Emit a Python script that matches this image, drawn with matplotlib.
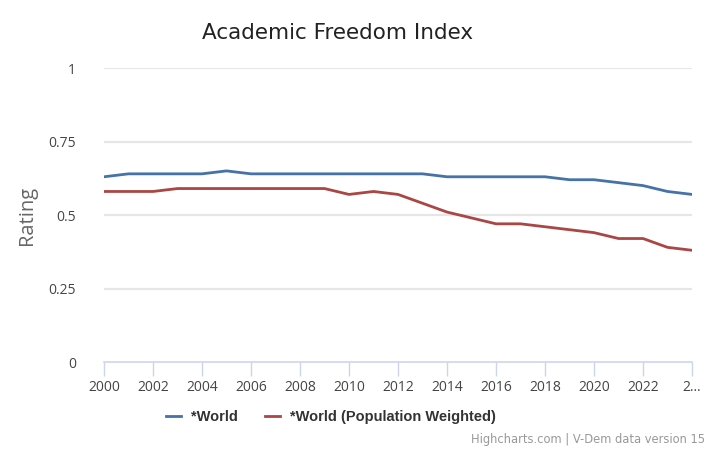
import numpy as np
import matplotlib.pyplot as plt

years = list(range(2000, 2025))
world = [0.63, 0.64, 0.64, 0.64, 0.64, 0.65, 0.64, 0.64, 0.64, 0.64,
         0.64, 0.64, 0.64, 0.64, 0.63, 0.63, 0.63, 0.63, 0.63, 0.62,
         0.62, 0.61, 0.60, 0.58, 0.57]
world_pop = [0.58, 0.58, 0.58, 0.59, 0.59, 0.59, 0.59, 0.59, 0.59, 0.59,
             0.57, 0.58, 0.57, 0.54, 0.51, 0.49, 0.47, 0.47, 0.46, 0.45,
             0.44, 0.42, 0.42, 0.39, 0.38]
xticks = list(range(2000, 2025, 2))
xtick_labels = [str(y) for y in xticks[:-1]] + ["2\u2026"]
yticks = [0, 0.25, 0.5, 0.75, 1]
ytick_labels = ["0", "0.25", "0.5", "0.75", "1"]

W, H = 710, 463
fig = plt.figure(figsize=(W / 100, H / 100), dpi=100)
ax = fig.add_axes([104 / W, 1 - 362 / H, 588 / W, 294 / H])

for y in yticks[1:]:
    ax.axhline(y, color="#e6e6e6", lw=1.6, zorder=0)

ax.plot(years, world, color="#4572A7", lw=2, label="*World", zorder=3)
ax.plot(years, world_pop, color="#AA4643", lw=2, label="*World (Population Weighted)", zorder=3)

ax.set_xlim(2000, 2024)
ax.set_ylim(0, 1)
for s in ["top", "right", "left"]:
    ax.spines[s].set_visible(False)
ax.spines["bottom"].set_color("#ccd6eb")
ax.spines["bottom"].set_linewidth(1.2)
ax.set_xticks(xticks)
ax.set_xticklabels(xtick_labels)
ax.set_yticks(yticks)
ax.set_yticklabels(ytick_labels)
ax.tick_params(axis="x", length=10, width=1, color="#ccd6eb", labelsize=10,
               labelcolor="#444444", pad=3)
ax.tick_params(axis="y", length=0, labelsize=10, labelcolor="#444444", pad=20)
for lab in ax.get_xticklabels() + ax.get_yticklabels():
    lab.set_family("Open Sans")

fig.text(27 / W, 1 - 215 / H, "Rating", rotation=90, ha="center", va="center",
         fontsize=14.5, color="#666666", family="Open Sans")
fig.text(338 / W, 1 - 33 / H, "Academic Freedom Index", ha="center", va="center",
         fontsize=15.5, color="#222222", family="DejaVu Sans")

leg = fig.legend(loc="center", bbox_to_anchor=(331 / W, 1 - 417 / H), ncol=2,
                 frameon=False, handlelength=1.0, handletextpad=0.7, columnspacing=1.9,
                 prop={"family": "Liberation Sans", "weight": "bold", "size": 10.5})
for t in leg.get_texts():
    t.set_color("#333333")

fig.text(705 / W, 1 - 440 / H, "Highcharts.com | V-Dem data version 15",
         ha="right", va="center", fontsize=8.3, color="#999999", family="DejaVu Sans")

fig.savefig("out.png", dpi=100)
